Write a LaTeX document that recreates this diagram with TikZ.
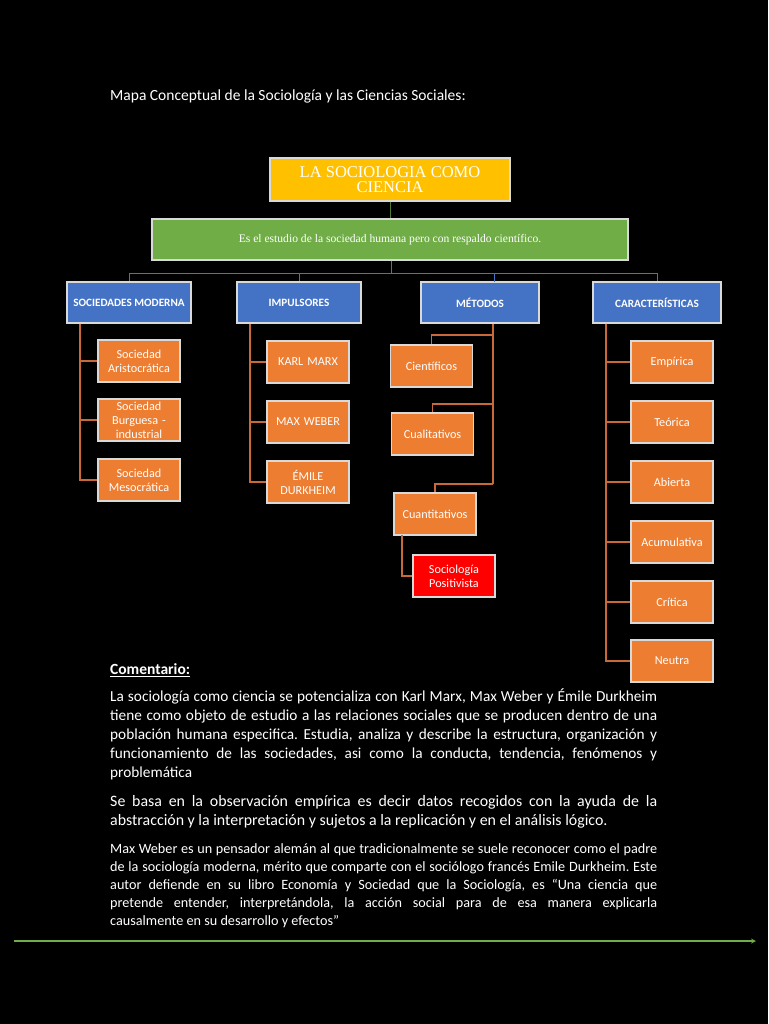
\documentclass[tikz,border=0pt]{standalone}
\usepackage{fontspec}
\setmainfont{Carlito}
\newfontfamily\timesf{Liberation Serif}
\definecolor{amarillo}{HTML}{FFC000}
\definecolor{verde}{HTML}{70AD47}
\definecolor{azul}{HTML}{4472C4}
\definecolor{naranja}{HTML}{ED7D31}
\definecolor{linea}{HTML}{C8693A}
\tikzset{
  caja/.style={draw=white!85!black, line width=1.2pt, text=white, align=center, inner sep=1pt},
  cajaazul/.style={caja, fill=azul, minimum height=41pt, font=\fontsize{11.2}{13}\selectfont\bfseries},
  cajanar/.style={caja, fill=naranja, minimum width=82pt, minimum height=42pt, text width=80pt, font=\fontsize{12.2}{14}\selectfont},
  lazul/.style={draw=azul, line width=1pt},
  lnar/.style={draw=linea, line width=1.2pt},
  parrafo/.style={anchor=north west, text=white, text width=547pt, align=justify, inner sep=0pt}
}
\begin{document}
\hyphenpenalty=10000
\frenchspacing
\begin{tikzpicture}[x=1pt,y=-1pt]
\fill[black] (0,0) rectangle (768,1024);
\useasboundingbox (0,0) rectangle (768,1024);
\node[anchor=west, inner sep=0pt, text=white, font=\fontsize{15.5}{17}\selectfont] (titulo) at (110,96) {Mapa Conceptual de la Sociología y las Ciencias Sociales:};
% raiz y definicion
\node[caja, fill=amarillo, minimum width=240pt, minimum height=43pt, font=\timesf\fontsize{16.5}{15}\selectfont] (raiz) at (390,179.5) {LA SOCIOLOGIA COMO\\CIENCIA};
\node[caja, fill=verde, minimum width=476pt, minimum height=41pt, font=\timesf\fontsize{11.6}{13}\selectfont] (def) at (390,239.5) {Es el estudio de la sociedad humana pero con respaldo científico.};
\draw[draw=verde!70!black, line width=1pt] (raiz) -- (def);
% ramas
\node[cajaazul, minimum width=124pt] (soc) at (129,302.5) {SOCIEDADES MODERNA};
\node[cajaazul, minimum width=124pt] (imp) at (299,302.5) {IMPULSORES};
\node[cajaazul, minimum width=118pt] (met) at (480,302.5) {MÉTODOS};
\node[cajaazul, minimum width=128pt] (car) at (657,302.5) {CARACTERÍSTICAS};
\coordinate (bus) at (391,273);
\draw[lazul] (def.south -| bus) -- (bus);
\draw[lazul] (bus) -| (soc.north);
\draw[lazul] (bus) -| (imp.north);
\draw[lazul] (bus) -| (494,282);
\draw[lazul] (bus) -| (car.north);
% sociedades
\node[cajanar] (s1) at (139,361) {Sociedad\\Aristocrática};
\node[cajanar] (s2) at (139,420) {Sociedad\\Burguesa -\\industrial};
\node[cajanar] (s3) at (139,480) {Sociedad\\Mesocrática};
\coordinate (sl) at (80,323.5);
\foreach \n in {s1,s2,s3} \draw[lnar] (sl) |- (\n.west);
% impulsores
\node[cajanar] (i1) at (308,362) {KARL MARX};
\node[cajanar] (i2) at (308,422) {MAX WEBER};
\node[cajanar] (i3) at (308,482) {ÉMILE\\DURKHEIM};
\coordinate (il) at (250,323.5);
\foreach \n in {i1,i2,i3} \draw[lnar] (il) |- (\n.west);
% metodos
\node[cajanar] (m1) at (431.5,366) {Científicos};
\node[cajanar] (m2) at (432.5,434) {Cualitativos};
\node[cajanar] (m3) at (435,514) {Cuantitativos};
\node[cajanar, fill=red] (m4) at (454,576) {Sociología\\Positivista};
\coordinate (ml) at (493,323.5);
\coordinate (mk1) at (493,335);
\coordinate (mk2) at (493,404);
\coordinate (mk3) at (493,484);
\draw[lnar] (ml) -- (mk3);
\draw[lnar] (mk1) -| (m1.north);
\draw[lnar] (mk2) -| (m2.north);
\draw[lnar] (mk3) -| (m3.north);
\coordinate (m3l) at (402,535);
\draw[lnar] (m3l) |- (m4.west);
% caracteristicas
\node[cajanar] (c1) at (672,362) {Empírica};
\node[cajanar] (c2) at (672,422) {Teórica};
\node[cajanar] (c3) at (672,482) {Abierta};
\node[cajanar] (c4) at (672,542) {Acumulativa};
\node[cajanar] (c5) at (672,602) {Crítica};
\node[cajanar] (c6) at (672,661) {Neutra};
\coordinate (cl) at (606,323.5);
\foreach \n in {c1,c2,c3,c4,c5,c6} \draw[lnar] (cl) |- (\n.west);
% comentario
\node[anchor=west, inner sep=0pt, text=white, font=\fontsize{15.5}{17}\selectfont\bfseries] (com) at (110,670) {\underline{Comentario:}};
\node[parrafo, font=\fontsize{15.3}{19}\selectfont] (p1) at (110,689) {La sociología como ciencia se potencializa con Karl Marx, Max Weber y Émile Durkheim tiene como objeto de estudio a las relaciones sociales que se producen dentro de una población humana especifica. Estudia, analiza y describe la estructura, organización y\linebreak funcionamiento de las sociedades, asi como la conducta, tendencia, fenómenos y problemática\par};
\node[parrafo, font=\fontsize{15.9}{19}\selectfont] (p2) at (110,795) {Se basa en la observación empírica es decir datos recogidos con la ayuda de la abstracción y la interpretación y sujetos a la replicación y en el análisis lógico.\par};
\node[parrafo, font=\fontsize{14.2}{18}\selectfont] (p3) at (110,843) {Max Weber es un pensador alemán al que tradicionalmente se suele reconocer como el padre\linebreak de la sociología moderna, mérito que comparte con el sociólogo francés Emile Durkheim. Este\linebreak autor defiende en su libro Economía y Sociedad que la Sociología, es “Una ciencia que\linebreak pretende entender, interpretándola, la acción social para de esa manera explicarla\linebreak causalmente en su desarrollo y efectos”\par};
\coordinate (fa) at (14,941);
\coordinate (fb) at (756,941);
\draw[-stealth, draw=verde, line width=1.2pt] (fa) -- (fb);
\end{tikzpicture}
\end{document}
